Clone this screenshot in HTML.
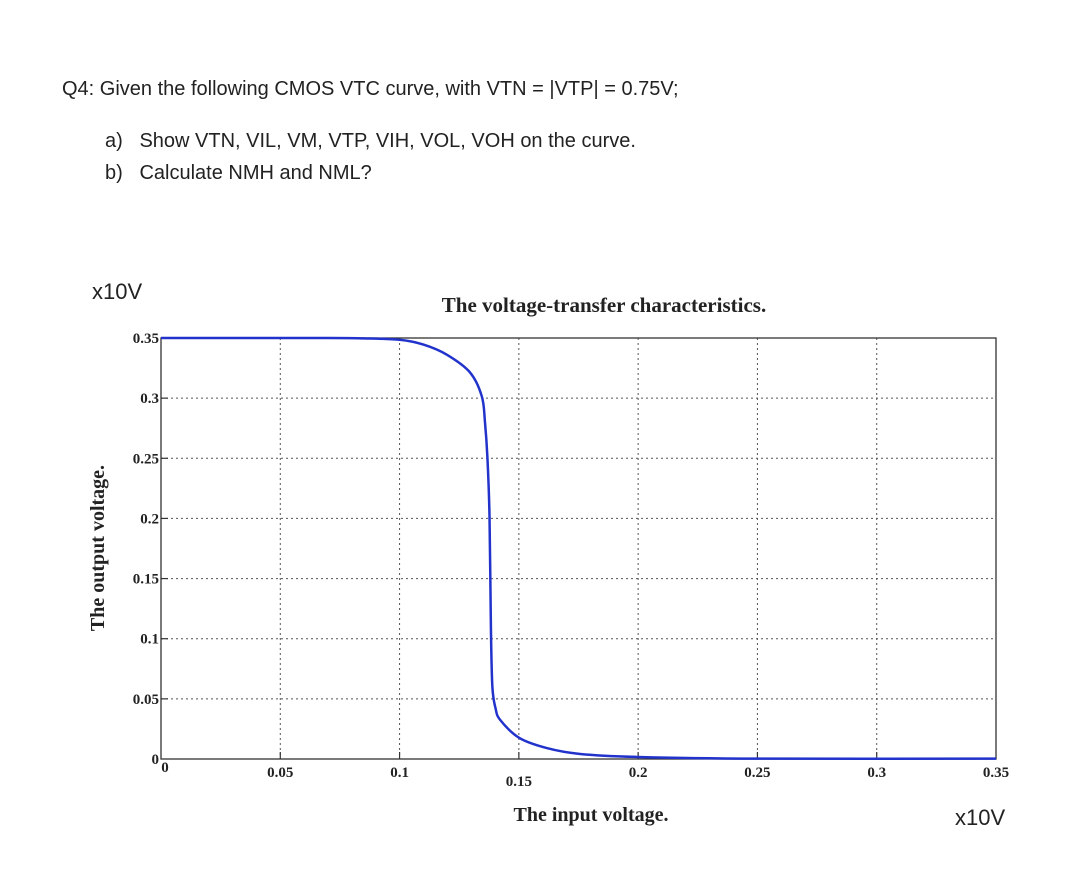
<!DOCTYPE html>
<html><head><meta charset="utf-8"><style>
body{margin:0;background:#fff;width:1080px;height:876px;overflow:hidden;position:relative;font-family:"Liberation Sans",sans-serif}
.q{position:absolute;color:#222;font-size:20px;white-space:nowrap}
svg{position:absolute;left:0;top:0}
.s{font-family:"Liberation Serif",serif;font-weight:bold;fill:#222}
</style></head><body>
<div class="q" style="left:62px;top:78px">Q4: Given the following CMOS VTC curve, with VTN = |VTP| = 0.75V;</div>
<div class="q" style="left:105px;top:130px">a)&nbsp;&nbsp; Show VTN, VIL, VM, VTP, VIH, VOL, VOH on the curve.</div>
<div class="q" style="left:105px;top:162px">b)&nbsp;&nbsp; Calculate NMH and NML?</div>
<div class="q" style="left:92px;top:279px;font-size:22px">x10V</div>
<div class="q" style="left:955px;top:805px;font-size:22px">x10V</div>
<svg width="1080" height="876" id="chart">
<text class="s" x="604" y="312" text-anchor="middle" font-size="21">The voltage-transfer characteristics.</text>
<text class="s" x="591" y="821" text-anchor="middle" font-size="20">The input voltage.</text>
<text class="s" transform="translate(104,548) rotate(-90)" text-anchor="middle" font-size="20">The output voltage.</text>
<g id="grid"></g><g id="ticks"></g>
<rect x="161" y="338" width="835" height="421" fill="none" stroke="#333" stroke-width="1.3"/>
<path id="curve" fill="none" stroke="#2233cc" stroke-width="2.5"/>
</svg>
<script>
const xTicks=[0,0.05,0.1,0.15,0.2,0.25,0.3,0.35];
const xTickLabels=["0","0.05","0.1","0.15","0.2","0.25","0.3","0.35"];
const yTicks=[0,0.05,0.1,0.15,0.2,0.25,0.3,0.35];
const yTickLabels=["0","0.05","0.1","0.15","0.2","0.25","0.3","0.35"];
const vin=[0,0.07,0.085,0.1,0.11,0.1198,0.1296,0.1345,0.1358,0.1368,0.1377,0.1383,0.1389,0.1402,0.1422,0.1502,0.1617,0.1757,0.2,0.25,0.35];
const vout=[0.35,0.35,0.3497,0.3485,0.3445,0.3361,0.3212,0.3013,0.28,0.2514,0.2015,0.1072,0.06,0.0424,0.0324,0.0175,0.0091,0.0042,0.0017,0.0003,0.0003];
const L=161,R=996,T=338,B=759;
const X=v=>L+v/0.35*(R-L), Y=v=>B-v/0.35*(B-T);
const ns="http://www.w3.org/2000/svg";
const grid=document.getElementById('grid'), tk=document.getElementById('ticks');
function mk(tag,a,p){const e=document.createElementNS(ns,tag);for(const k in a)e.setAttribute(k,a[k]);p.appendChild(e);return e;}
xTicks.forEach((v,i)=>{
 if(i>0&&i<xTicks.length-1){const g=mk('line',{x1:X(v),x2:X(v),y1:T,y2:B,stroke:'#555','stroke-dasharray':'2 3','stroke-width':1},grid);
 
 
 const m=mk('line',{x1:X(v),x2:X(v),y1:B,y2:B-7,stroke:'#333','stroke-width':1.2},grid);
 
 }
 const t=mk('text',{x:X(v)+(i==0?4:0),y:i==0?772:i==3?786:777,'text-anchor':'middle','font-size':15,class:'s'},tk);
 t.textContent=xTickLabels[i];
 
 
});
yTicks.forEach((v,i)=>{
 if(i>0&&i<yTicks.length-1){const g=mk('line',{x1:L,x2:R,y1:Y(v),y2:Y(v),stroke:'#555','stroke-dasharray':'2 3','stroke-width':1},grid);
 
 
 const m=mk('line',{x1:L,x2:L+7,y1:Y(v),y2:Y(v),stroke:'#333','stroke-width':1.2},grid);
 
 }
 const t=mk('text',{x:L-2,y:Y(v)+5,'text-anchor':'end','font-size':15,class:'s'},tk);
 t.textContent=yTickLabels[i];
 
 
});
const P=vin.map((v,i)=>[X(v),Y(vout[i])]);
let d=`M${P[0][0]},${P[0][1]}`;
for(let i=0;i<P.length-1;i++){
 const p0=P[Math.max(0,i-1)],p1=P[i],p2=P[i+1],p3=P[Math.min(P.length-1,i+2)];
 const k=1/6;
 d+=` C${p1[0]+(p2[0]-p0[0])*k},${p1[1]+(p2[1]-p0[1])*k} ${p2[0]-(p3[0]-p1[0])*k},${p2[1]-(p3[1]-p1[1])*k} ${p2[0]},${p2[1]}`;
}
document.getElementById('curve').setAttribute('d',d);
</script>
</body></html>
